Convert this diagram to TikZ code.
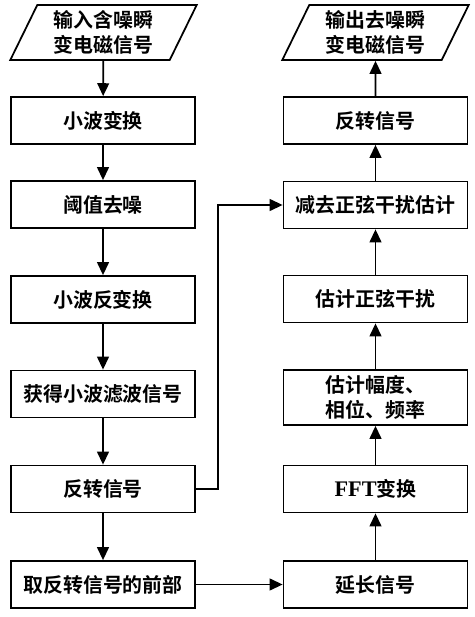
\documentclass[tikz,border=0pt]{standalone}
\usepackage{fontspec}
\setmainfont{Liberation Serif}
\newfontfamily\cjk{Noto Sans CJK SC}[BoldFont={Noto Sans CJK SC Bold}]
\usetikzlibrary{shapes.geometric,arrows.meta}

\begin{document}
\begin{tikzpicture}[x=0.03cm,y=-0.03cm]
	\tikzstyle{b} = [draw, line width=1.5pt, minimum width=5.52cm, minimum height=1.41cm, align=center, inner sep=0pt, font=\cjk\bfseries\fontsize{17}{21}\selectfont]
	\tikzstyle{io} = [b, trapezium, trapezium left angle=65, trapezium right angle=115, trapezium stretches=true, minimum width=5.6cm, minimum height=1.65cm]
	\tikzstyle{a} = [line width=1.5pt, -{Triangle[length=11pt,width=10pt]}]
	\useasboundingbox (0,0) rectangle (474,617);

	% left column
	\node [io] (l0) at (103.5,32.5) {输入含噪瞬\\变电磁信号};
	\node [b] (l1) at (103,120.5) {小波变换};
	\node [b] (l2) at (103,204.5) {阈值去噪};
	\node [b] (l3) at (103,299.5) {小波反变换};
	\node [b] (l4) at (103,394) {获得小波滤波信号};
	\node [b] (l5) at (103,489) {反转信号};
	\node [b] (l6) at (103,584.5) {取反转信号的前部};

	% right column
	\node [io] (r0) at (375.5,32.5) {输出去噪瞬\\变电磁信号};
	\node [b] (r1) at (375.5,120.5) {反转信号};
	\node [b] (r2) at (375.5,205) {减去正弦干扰估计};
	\node [b] (r3) at (375.5,299) {估计正弦干扰};
	\node [b, minimum height=1.65cm] (r4) at (375.5,397.5) {估计幅度、\\相位、频率};
	\node [b] (r5) at (375.5,489) {{\rmfamily\fontsize{19}{21}\selectfont FFT}变换};
	\node [b] (r6) at (375.5,584.5) {延长信号};

	\coordinate (k) at (218,489);

	\draw [a] (l0) -- (l1);
	\draw [a] (l1) -- (l2);
	\draw [a] (l2) -- (l3);
	\draw [a] (l3) -- (l4);
	\draw [a] (l4) -- (l5);
	\draw [a] (l5) -- (l6);

	\draw [a] (l6) -- (r6);
	\draw [a] (l5.east) -- (k) |- (r2.west);

	\draw [a] (r6) -- (r5);
	\draw [a] (r5) -- (r4);
	\draw [a] (r4) -- (r3);
	\draw [a] (r3) -- (r2);
	\draw [a] (r2) -- (r1);
	\draw [a] (r1) -- (r0);
\end{tikzpicture}
\end{document}
